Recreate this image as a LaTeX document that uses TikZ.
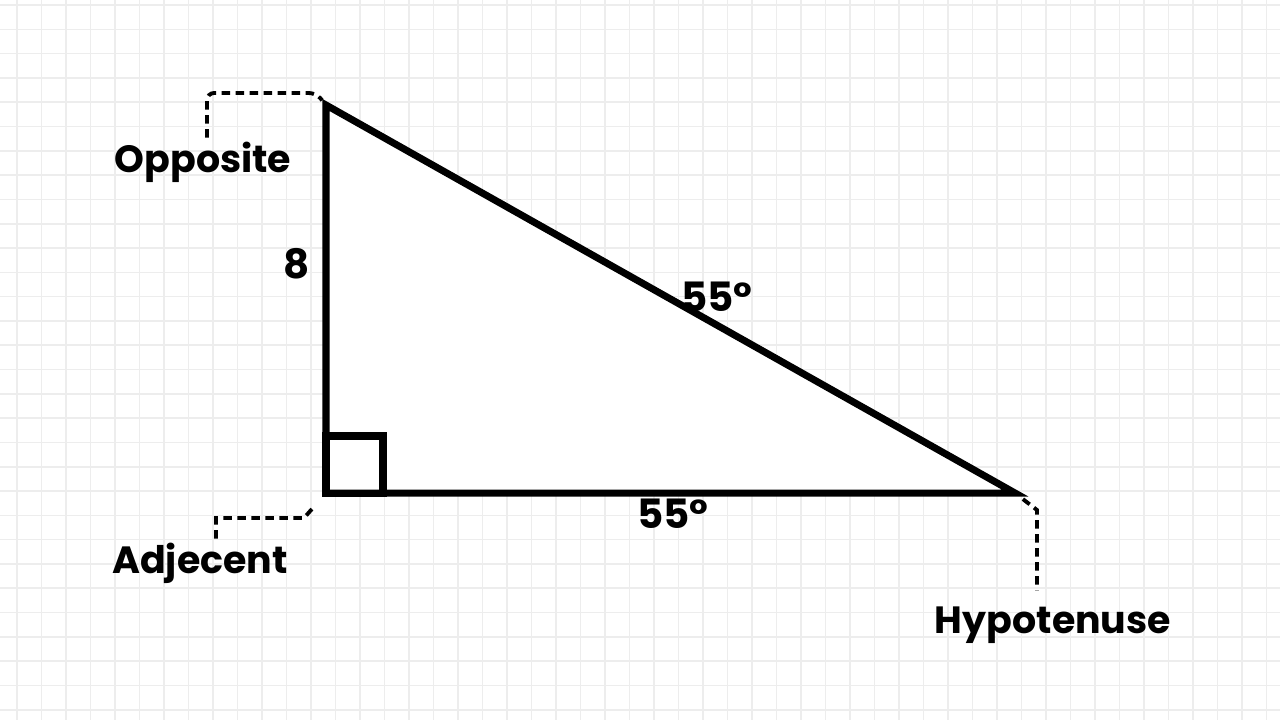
\documentclass[tikz,border=0pt]{standalone}
\usepackage{fontspec}
\setmainfont{Poppins}

\begin{document}
\begin{tikzpicture}[x=0.1mm, y=-0.1mm,
        every node/.style={inner sep=1pt, font=\fontsize{10.8}{13}\selectfont\bfseries},
        side/.style={line width=2pt, line join=miter},
        leader/.style={line width=1.1pt, dash pattern=on 0.85mm off 0.55mm},
        gridline/.style={draw=black!7, line width=0.45pt}]
    \useasboundingbox (0,0) rectangle (1280,720);
    \fill[white] (0,0) rectangle (1280,720);
    \foreach \x in {17,41.5,...,1280} \draw[gridline] (\x,0) -- (\x,720);
    \foreach \y in {5,29.3,...,720} \draw[gridline] (0,\y) -- (1280,\y);

    \coordinate (A) at (326,105);
    \coordinate (B) at (326,493);
    \coordinate (C) at (1015,493);

    \fill[white] (A) -- (B) -- (C) -- cycle;
    \draw[side] (B) rectangle (383,436);
    \draw[side] (A) -- (B) -- (C) -- cycle;

    \node (opp) at (203,162) {Opposite};
    \node (adj) at (200,563) {Adjecent};
    \node (hyp) at (1053,625) {Hypotenuse};
    \node[font=\fontsize{11.5}{13}\selectfont\bfseries] (eight) at (297,264) {8};
    \node[font=\fontsize{11.5}{13}\selectfont\bfseries] (angtop) at (717,297) {55°};
    \node[font=\fontsize{11.5}{13}\selectfont\bfseries] (angbot) at (673,514) {55°};

    \coordinate (oppbend) at (207,93);
    \coordinate (adjbend) at (216,518);
    \coordinate (hypbend) at (1037,510);

    \draw[leader, rounded corners=2pt, shorten >=0.6mm] (opp.north -| oppbend) -- (oppbend) -- ++(109,0) -- (A);
    \draw[leader, shorten >=1.8mm] (adj.north -| adjbend) -- (adjbend) -- ++(88,0) -- (B);
    \draw[leader, shorten <=1mm, shorten >=1.2mm] (C) -- (hypbend) -- (hypbend |- hyp.north);
\end{tikzpicture}
\end{document}
